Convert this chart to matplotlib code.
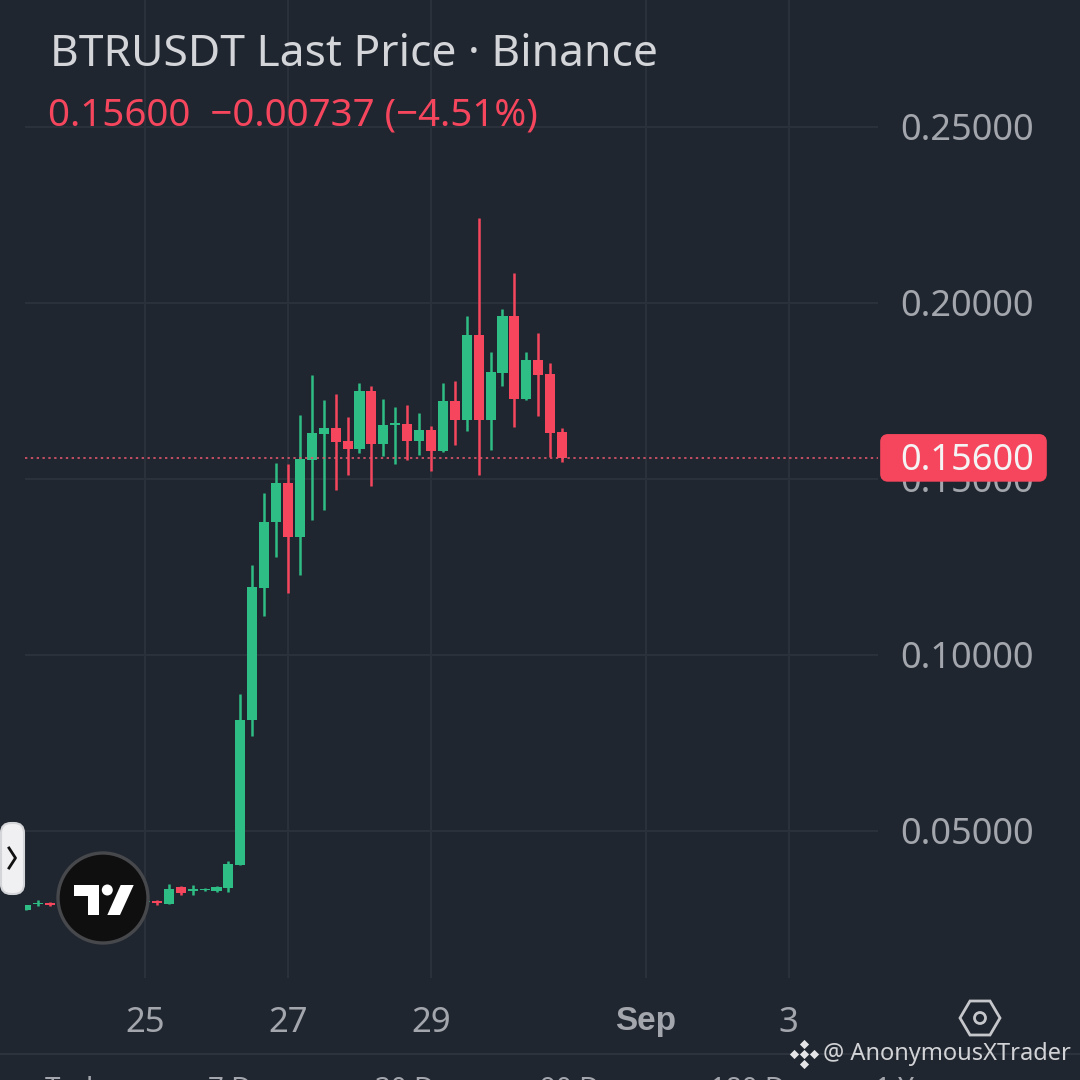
import numpy as np
import matplotlib
matplotlib.use("Agg")
import matplotlib.pyplot as plt
from matplotlib.patches import Circle, FancyBboxPatch, Polygon

plt.rcParams["font.family"] = ["Noto Sans", "DejaVu Sans"]

# ==================================
# DATA (4h candles)
# ==================================

# days since 25 Aug
first_candle = -10 / 6
candle_step = 1 / 6

opens = [
    0.02756, 0.02926, 0.02955, 0.02900, 0.02930, 0.02960, 0.02940, 0.02990,
    0.03010, 0.02970, 0.02990, 0.03011, 0.02926, 0.03409, 0.03295, 0.03310,
    0.03295, 0.03381, 0.04034, 0.08153, 0.11903, 0.13778, 0.14886, 0.13352,
    0.15540, 0.16278, 0.16449, 0.16080, 0.15852, 0.17500, 0.15994, 0.16534,
    0.16563, 0.16080, 0.16392, 0.15795, 0.17216, 0.16676, 0.19091, 0.16676,
    0.18011, 0.19631, 0.17273, 0.18381, 0.17983, 0.16335,
]
highs = [
    0.02898, 0.03040, 0.02983, 0.02960, 0.02990, 0.03000, 0.03020, 0.03040,
    0.03030, 0.03010, 0.03020, 0.03040, 0.03494, 0.03438, 0.03466, 0.03370,
    0.03438, 0.04148, 0.08892, 0.12557, 0.14602, 0.15455, 0.15426, 0.16818,
    0.17955, 0.17244, 0.17415, 0.16761, 0.17727, 0.17642, 0.17273, 0.17045,
    0.17102, 0.16875, 0.16506, 0.17727, 0.17784, 0.19631, 0.22415, 0.18608,
    0.19830, 0.20852, 0.18608, 0.19148, 0.18295, 0.16449,
]
lows = [
    0.02756, 0.02869, 0.02869, 0.02870, 0.02900, 0.02930, 0.02920, 0.02960,
    0.02950, 0.02940, 0.02960, 0.02898, 0.02926, 0.03182, 0.03182, 0.03300,
    0.03267, 0.03267, 0.04034, 0.07699, 0.11108, 0.12784, 0.11761, 0.12273,
    0.13835, 0.14119, 0.14688, 0.15114, 0.15739, 0.14801, 0.15653, 0.15426,
    0.15540, 0.15682, 0.15227, 0.15767, 0.15966, 0.16364, 0.15114, 0.15824,
    0.17642, 0.16477, 0.17244, 0.16790, 0.15625, 0.15483,
]
closes = [
    0.02898, 0.02955, 0.02898, 0.02930, 0.02960, 0.02940, 0.02990, 0.03010,
    0.02970, 0.02990, 0.03000, 0.02955, 0.03352, 0.03239, 0.03352, 0.03352,
    0.03409, 0.04062, 0.08153, 0.11932, 0.13778, 0.14886, 0.13352, 0.15568,
    0.16307, 0.16449, 0.16051, 0.15852, 0.17500, 0.15994, 0.16534, 0.16591,
    0.16080, 0.16392, 0.15795, 0.17216, 0.16676, 0.19091, 0.16676, 0.18040,
    0.19631, 0.17273, 0.18381, 0.17955, 0.16307, 0.15600,
]

last_price = 0.15600
price_ticks = [0.05, 0.10, 0.15, 0.20, 0.25]
date_ticks = [0, 2, 4, 7, 9]
date_labels = ["25", "27", "29", "Sep", "3"]
range_labels = ["Today", "7 Days", "30 Days", "90 Days", "180 Days", "1 Y"]
range_x = [45, 208, 375, 540, 710, 875]

# ==================================
# COLOURS
# ==================================

BG = "#1f2630"
GRID = "#2c323b"
GREEN = "#2ebd85"
RED = "#f6465d"
AXIS_TEXT = "#a3a6ac"

# ==================================
# CHART
# ==================================

W = 1080
H = 1080
fig = plt.figure(figsize=(W / 100, H / 100), dpi=100, facecolor=BG)

ax = fig.add_axes([25 / W, 1 - 978 / H, (878 - 25) / W, 978 / H], facecolor=BG)
ax.set_xlim((25 - 145) / 71.5, (878 - 145) / 71.5)
ax.set_ylim(0.05 - 147 / 3520, 0.05 + 831 / 3520)

ax.grid(True, color=GRID, linewidth=1.4, zorder=0)
ax.set_axisbelow(True)
for side in ax.spines:
    ax.spines[side].set_visible(False)

ax.set_xticks(date_ticks)
ax.set_xticklabels(date_labels)
ax.set_yticks(price_ticks)
ax.set_yticklabels([f"{p:.5f}" for p in price_ticks])
ax.yaxis.tick_right()
ax.tick_params(axis="y", length=0, pad=16, labelsize=26, labelcolor=AXIS_TEXT)
ax.tick_params(axis="x", length=0, pad=20, labelsize=25, labelcolor=AXIS_TEXT)

# Noto Sans has no bold face here, so the month label uses Liberation Sans
sep_label = ax.xaxis.get_major_ticks()[3].label1
sep_label.set_fontfamily("Liberation Sans")
sep_label.set_fontweight("bold")
sep_label.set_fontsize(24)

times = first_candle + candle_step * np.arange(len(opens))
opens = np.array(opens)
closes = np.array(closes)
colors = [GREEN if c >= o else RED for o, c in zip(opens, closes)]

ax.vlines(times, lows, highs, colors=colors, linewidth=1.8, zorder=3)
ax.bar(
    times,
    np.abs(closes - opens),
    bottom=np.minimum(opens, closes),
    width=0.14,
    color=colors,
    linewidth=0,
    zorder=4
)

ax.axhline(
    last_price,
    color="#e0566c",
    linewidth=1.2,
    linestyle=(0, (1.4, 2.1)),
    zorder=5
)

# ==================================
# OVERLAY (header, logo, buttons) in pixels
# ==================================

top = fig.add_axes([0, 0, 1, 1], facecolor="none")
top.set_xlim(0, W)
top.set_ylim(H, 0)
top.axis("off")

top.text(50, 55, "BTRUSDT Last Price · Binance", fontsize=32, color="#d3d5d9",
         va="center", ha="left")
top.text(48, 116, "0.15600  −0.00737 (−4.51%)", fontsize=27.7, color=RED,
         va="center", ha="left")

# price tag
tag_y = top.transData.inverted().transform(ax.transData.transform((0, last_price)))[1]
top.add_patch(FancyBboxPatch((884, tag_y - 20), 159, 40,
                             boxstyle="round,pad=0,rounding_size=4",
                             mutation_aspect=1, facecolor=RED, edgecolor=RED,
                             linewidth=5.5, zorder=6))
top.text(967, tag_y + 3, f"{last_price:.5f}", fontsize=26, color="#f4f4f5",
         va="center", ha="center", zorder=7)

# side handle
top.add_patch(FancyBboxPatch((1, 823), 23, 71,
                             boxstyle="round,pad=0,rounding_size=10",
                             facecolor="#f0f0f2", edgecolor="#d4d5d8",
                             linewidth=1.5, zorder=6))
top.plot([9, 15.5, 9], [848, 858, 868], color="#111111", linewidth=2, zorder=7)

# TradingView logo
top.add_patch(Circle((103, 898), 45, facecolor="#0f0f0f", edgecolor="#47484c",
                     linewidth=2.4, zorder=6))
top.add_patch(Polygon([(74, 885), (99, 885), (99, 915), (88, 915), (88, 896), (74, 896)],
                      facecolor="white", edgecolor="none", zorder=7))
top.add_patch(Circle((107.3, 890), 5.5, facecolor="white", edgecolor="none", zorder=7))
top.add_patch(Polygon([(120.7, 885), (133.7, 885), (120, 915), (107.3, 915)],
                      facecolor="white", edgecolor="none", zorder=7))

# settings icon
top.add_patch(Polygon([(960, 1018), (970, 1001), (990, 1001), (1000, 1018), (990, 1035), (970, 1035)],
                      closed=True, facecolor="none", edgecolor="#c6c7cb", linewidth=2))
top.add_patch(Circle((980, 1018), 5.5, facecolor="none", edgecolor="#c6c7cb", linewidth=2))

# bottom bar, cut off by the edge of the picture
top.plot([0, W], [1054, 1054], color="#30363f", linewidth=1.2)
for x, label in zip(range_x, range_labels):
    top.text(x, 1076, label, fontsize=20, color="#a3a6ac", va="top", ha="left")

# watermark
for dx, dy in [(0, -10), (-10, 0), (10, 0), (0, 10), (0, 0)]:
    top.scatter(804 + dx, 1054 + dy, marker="D", s=22, color="#e4e4e6", linewidths=0, zorder=7)
top.text(823, 1054, "@ AnonymousXTrader", fontsize=17, color="#d2d3d6",
         va="center", ha="left", zorder=7)

plt.savefig("out.png", dpi=100, facecolor=BG)
plt.close()
